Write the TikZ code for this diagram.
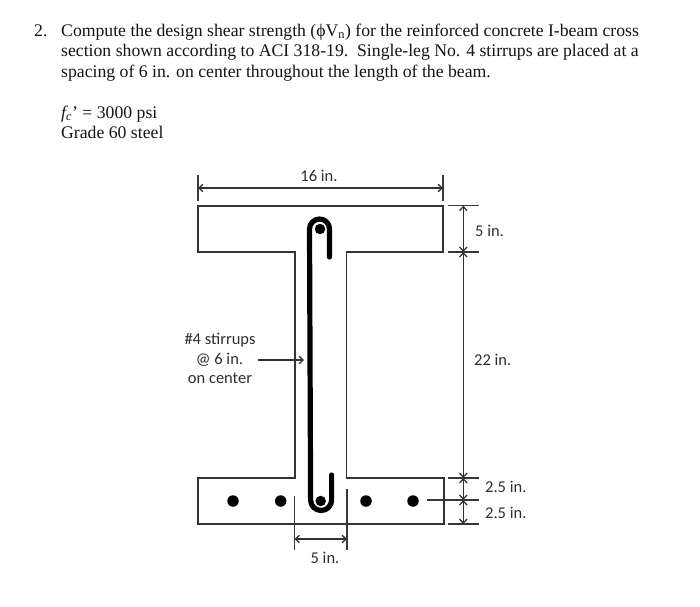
\documentclass[tikz,border=0pt]{standalone}
\usepackage{fontspec}
\setmainfont{Liberation Serif}
\newfontfamily\lblfont{Carlito}
\usetikzlibrary{arrows.meta}
\tikzset{
  prob/.style={anchor=base west,inner sep=0pt,font=\fontsize{17.7}{20}\selectfont,text=black!92},
  lbl/.style={inner sep=0pt,font=\lblfont\fontsize{16.5}{19}\selectfont,text=black!82},
  outline/.style={draw=black!80,line width=1.7pt,line join=miter},
  extline/.style={draw=black!78,line width=1.3pt},
  dimline/.style={draw=black!80,line width=1.3pt,{Straight Barb[length=4pt,width=7.5pt]}-{Straight Barb[length=4pt,width=7.5pt]}},
  leader/.style={draw=black!80,line width=1.3pt,-{Straight Barb[length=4pt,width=7.5pt]}},
  rebar/.style={fill=black,draw=none,circle,minimum size=11.5pt,inner sep=0pt},
  tie/.style={draw=black,line width=5.2pt,line cap=round,line join=round}
}
\begin{document}
\begin{tikzpicture}[x=1pt,y=-1pt]
\useasboundingbox (0,0) rectangle (700,606);
% problem text
\node[prob] (n2) at (34,36) {2.};
\node[prob] (l1) at (61,36) {Compute the design shear strength (ϕV\textsubscript{n}) for the reinforced concrete I-beam cross};
\node[prob] (l2) at (61,56.7) {section shown according to ACI 318-19.\ \ Single-leg No. 4 stirrups are placed at a};
\node[prob] (l3) at (61,77.7) {spacing of 6 in. on center throughout the length of the beam.};
\node[prob] (fc) at (61,118) {\textit{f\textsubscript{c}}’ = 3000 psi};
\node[prob] (gr) at (61,138.3) {Grade 60 steel};
% section outline
\draw[outline] (198,205.7) -- (443,205.7) -- (443,252) -- (346.5,252) -- (346.5,478)
  -- (444,478) -- (444,524) -- (198,524) -- (198,478) -- (295,478) -- (295,252)
  -- (198,252) -- cycle;
% bars
\node[rebar] (b1) at (233,501) {};
\node[rebar] (b2) at (280.7,501) {};
\node[rebar] (b3) at (366,501) {};
\node[rebar] (b4) at (413,501) {};
\node[rebar,minimum size=10.5pt] (bt) at (320,229) {};
\node[rebar,minimum size=10.5pt] (bb) at (320.7,501) {};
% stirrup
\draw[tie] (329.5,257) -- (329.5,229) arc[start angle=0,end angle=-180,radius=10] -- (310.6,500)
  arc[start angle=180,end angle=0,radius=10.5] -- (331.6,475);
% top dimension
\coordinate (t1a) at (198,175); \coordinate (t1b) at (198,201);
\coordinate (t2a) at (443,175); \coordinate (t2b) at (443,201);
\coordinate (d1) at (198,188); \coordinate (d2) at (443,188);
\draw[extline] (t1a) -- (t1b);
\draw[extline] (t2a) -- (t2b);
\draw[dimline] (d1) -- (d2);
\node[lbl] (w16) at (319,175.5) {16 in.};
% bottom dimension
\coordinate (e1a) at (294.5,496); \coordinate (e1b) at (294.5,550);
\coordinate (e2a) at (347,489); \coordinate (e2b) at (347,550);
\coordinate (d3) at (294.5,539); \coordinate (d4) at (347,539);
\draw[extline] (e1a) -- (e1b);
\draw[extline] (e2a) -- (e2b);
\draw[dimline] (d3) -- (d4);
\node[lbl] (w5) at (325,558) {5 in.};
% right dimensions
\coordinate (r1a) at (448,205.7); \coordinate (r1b) at (479,205.7);
\coordinate (r2a) at (448,252); \coordinate (r2b) at (479,252);
\coordinate (r3a) at (448,478); \coordinate (r3b) at (479,478);
\coordinate (r4a) at (427,500); \coordinate (r4b) at (479,500);
\coordinate (r5a) at (448,524); \coordinate (r5b) at (479,524);
\draw[extline] (r1a) -- (r1b);
\draw[extline] (r2a) -- (r2b);
\draw[extline] (r3a) -- (r3b);
\draw[extline] (r4a) -- (r4b);
\draw[extline] (r5a) -- (r5b);
\coordinate (v1) at (463.3,205.7); \coordinate (v2) at (463.3,252);
\coordinate (v3) at (463.3,478); \coordinate (v4) at (463.3,500);
\coordinate (v5) at (463.3,524);
\draw[dimline] (v1) -- (v2);
\draw[dimline] (v2) -- (v3);
\draw[dimline] (v3) -- (v4);
\draw[dimline] (v4) -- (v5);
\node[lbl,anchor=west] (h5) at (475,231) {5 in.};
\node[lbl,anchor=west] (h22) at (474,360) {22 in.};
\node[lbl,anchor=west] (h25a) at (485,487) {2.5 in.};
\node[lbl,anchor=west] (h25b) at (485,513) {2.5 in.};
% stirrup label
\node[lbl] (s1) at (220,340) {\#4 stirrups};
\node[lbl] (s2) at (219.5,359.5) {@ 6 in.};
\node[lbl] (s3) at (220,378) {on center};
\coordinate (la) at (258,360); \coordinate (lb) at (304,360);
\draw[leader] (la) -- (lb);
\end{tikzpicture}
\end{document}
